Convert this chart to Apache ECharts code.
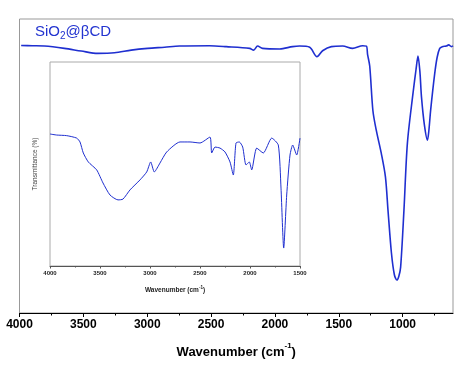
<!DOCTYPE html>
<html>
<head>
<meta charset="utf-8">
<script src="https://cdn.jsdelivr.net/npm/echarts@6/dist/echarts.min.js"></script>
<style>html,body{margin:0;padding:0;background:#fff}#c{width:474px;height:369px}</style>
</head>
<body>
<div id="c"></div>
<script>
// Main spectrum (wavenumber cm-1, transmittance a.u.)
const mainWavenumber = [3987,3900,3804,3648,3517,3387,3256,3125,2997,2864,2747,2512,2381,2198,2167,2136,2097,1963,1862,1807,1728,1671,1627,1558,1470,1392,1313,1284,1275,1258,1233,1206,1167,1135,1115,1088,1065,1045,1030,1016,990,963,919,895,880,865,853,830,806,795,781,749,730,710,690,658,640,618,606];
const mainTransmittance = [91.0,90.9,90.8,90.0,89.1,88.3,88.5,89.4,90.0,90.4,90.8,90.9,90.6,90.0,89.4,90.8,90.0,89.8,90.6,90.8,90.4,87.2,89.2,90.6,90.8,90.0,90.9,90.8,88.0,84.0,68.8,62.0,54.2,46.3,35.0,20.4,13.0,11.2,12.5,15.6,35.0,57.8,74.8,83.0,87.4,82.0,73.6,64.0,58.8,62.0,69.0,81.5,87.0,90.0,90.6,90.8,91.2,90.6,90.9];
// Inset spectrum 4000-1500 cm-1
const insetWavenumber = [4000,3933,3833,3733,3700,3667,3617,3533,3470,3400,3320,3270,3200,3100,3033,2993,2957,2900,2833,2700,2600,2500,2400,2383,2350,2300,2250,2200,2167,2140,2107,2073,2040,2007,1983,1933,1867,1783,1717,1690,1663,1633,1600,1573,1533,1500];
const insetTransmittance = [64.7,64.2,63.9,62.7,60.8,55.4,51.0,47.1,40.7,34.8,32.4,32.8,37.3,42.2,46.1,51.0,46.1,50.5,55.9,60.8,60.8,60.3,63.2,55.4,58.3,57.8,55.9,51.0,44.6,60.3,60.8,58.3,49.5,51.0,47.1,57.8,55.4,62.7,59.3,38.2,8.8,34.8,54.4,59.3,54.4,62.7];
const mainTicks = [4000,3500,3000,2500,2000,1500,1000];
const mainMinorTicks = [3750,3250,2750,2250,1750,1250,750];
const insetTicks = [4000,3500,3000,2500,2000,1500];

const zip = (a,b) => a.map((v,i)=>[v,b[i]]);
const blue = '#1f2fd0';
const font = 'Liberation Sans, Arial, sans-serif';
const plain = v => String(v);

const chart = echarts.init(document.getElementById('c'));
chart.setOption({
  animation: false,
  backgroundColor: '#fff',
  grid: [
    {left: 19.5, right: 21, top: 19, bottom: 56, show: true, borderColor: '#999', borderWidth: 1},
    {left: 50, right: 174, top: 62, bottom: 103, show: true, borderColor: '#aaa', borderWidth: 1}
  ],
  xAxis: [
    {gridIndex: 0, type: 'value', inverse: true, min: 606, max: 4000, position: 'bottom',
     axisLine: {show: true, lineStyle: {color: '#000', width: 1}},
     axisTick: {show: true, length: 4, customValues: mainTicks, lineStyle: {color: '#000'}},
     axisLabel: {customValues: mainTicks, formatter: plain, fontFamily: font, fontWeight: 'bold', fontSize: 12, color: '#000', margin: 6},
     splitLine: {show: false},
     name: '{a|Wavenumber (cm}{s|-1}{a|)}', nameLocation: 'middle', nameGap: 29,
     nameTextStyle: {rich: {
       a: {fontFamily: font, fontWeight: 'bold', fontSize: 13, color: '#000', padding: [4,0,0,0], verticalAlign: 'top'},
       s: {fontFamily: font, fontWeight: 'bold', fontSize: 8, color: '#000', verticalAlign: 'top'}
     }}},
    {gridIndex: 0, type: 'value', inverse: true, min: 606, max: 4000, position: 'bottom',
     axisLine: {show: false},
     axisTick: {show: true, length: 2.5, customValues: mainMinorTicks, lineStyle: {color: '#000'}},
     axisLabel: {show: false}, splitLine: {show: false}},
    {gridIndex: 1, type: 'value', inverse: true, min: 1500, max: 4000, interval: 500, position: 'bottom',
     axisLine: {show: true, lineStyle: {color: '#555', width: 1}},
     axisTick: {show: true, length: 2.5, lineStyle: {color: '#555'}},
     minorTick: {show: true, splitNumber: 2, length: 1.5, lineStyle: {color: '#555'}},
     axisLabel: {formatter: plain, fontFamily: font, fontWeight: 'bold', fontSize: 6, color: '#222', margin: 4},
     splitLine: {show: false},
     name: '{a|Wavenumber (cm}{s|-1}{a|)}', nameLocation: 'middle', nameGap: 19,
     nameTextStyle: {rich: {
       a: {fontFamily: font, fontWeight: 'bold', fontSize: 6.5, color: '#222', padding: [2,0,0,0], verticalAlign: 'top'},
       s: {fontFamily: font, fontWeight: 'bold', fontSize: 4.5, color: '#222', verticalAlign: 'top'}
     }}}
  ],
  yAxis: [
    {gridIndex: 0, type: 'value', min: 0, max: 100, show: false},
    {gridIndex: 1, type: 'value', min: 0, max: 100,
     axisLine: {show: false}, axisTick: {show: false}, axisLabel: {show: false}, splitLine: {show: false},
     name: 'Transmittance (%)', nameLocation: 'middle', nameRotate: 90, nameGap: 11,
     nameTextStyle: {fontFamily: font, fontSize: 6.5, color: '#444'}}
  ],
  graphic: [
    {type: 'text', left: 35, top: 24, style: {
      text: '{a|SiO}{s|2}{a|@βCD}',
      rich: {
        a: {fontFamily: font, fontSize: 15, fill: '#2233d0', verticalAlign: 'top'},
        s: {fontFamily: font, fontSize: 10, fill: '#2233d0', verticalAlign: 'top', padding: [7,0,0,0]}
      }
    }}
  ],
  series: [
    {type: 'line', xAxisIndex: 0, yAxisIndex: 0, data: zip(mainWavenumber, mainTransmittance),
     showSymbol: false, smooth: 0.3, lineStyle: {color: blue, width: 1.6}},
    {type: 'line', xAxisIndex: 2, yAxisIndex: 1, data: zip(insetWavenumber, insetTransmittance),
     showSymbol: false, smooth: 0.2, lineStyle: {color: blue, width: 1}}
  ]
});
</script>
</body>
</html>
